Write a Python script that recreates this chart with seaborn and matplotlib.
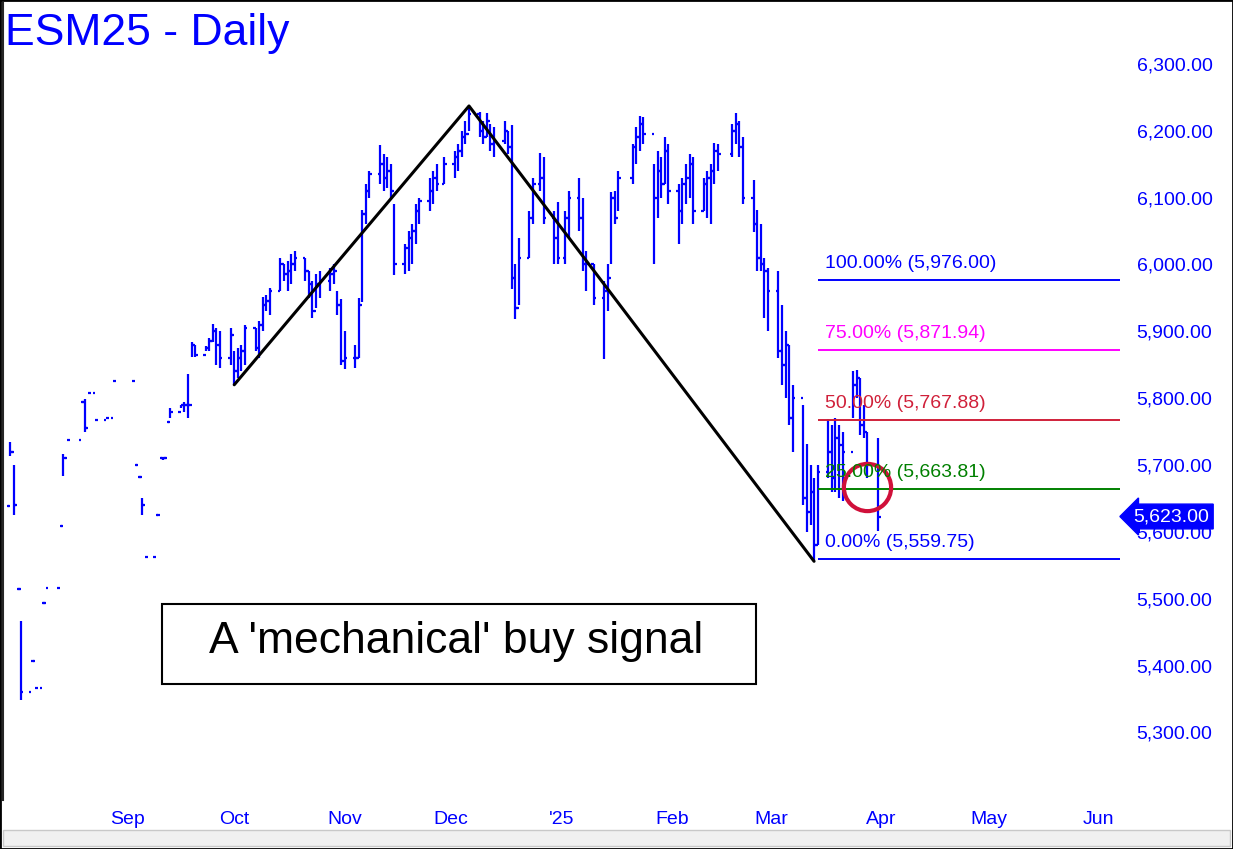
import matplotlib.pyplot as plt
import matplotlib.dates as mdates
import matplotlib.transforms as mtransforms
from matplotlib.patches import Rectangle
import seaborn as sns
import pandas as pd
import numpy as np

nan = np.nan

# daily highs / lows / closes, one row per week (Mon..Fri), from 2024-07-29
highs = [
    5638, 5735, 5700, 5515, 5467,
    5407, 5366, nan, 5494, 5516,
    nan, 5609, 5717, 5738, nan,
    5795, 5798, 5807, nan, 5768,
    5770, nan, 5825, nan, nan,
    nan, 5700, 5682, 5650, 5562,
    5625, 5710, 5712, 5765, 5785,
    5790, 5795, 5836, 5884, 5880,
    5878, 5890, 5911, 5905, 5900,
    5905, 5870, 5875, 5880, 5910,
    5905, 5915, 5951, 5955, 5965,
    6010, 6000, 6005, 6015, 6020,
    6010, 5990, 5975, 5985, 5990,
    5995, 6000, 5960, 5948, 5900,
    5880, 5950, 6082, 6120, 6140,
    6178, 6165, 6160, 6150, 6090,
    6030, 6050, 6060, 6090, 6100,
    6130, 6140, 6150, nan, 6160,
    6170, 6180, 6200, 6215, 6237,
    6228, 6215, 6227, 6210, 6205,
    6215, 6200, 6208, 6000, 6040,
    6080, 6130, nan, 6167, 6160,
    6080, 6093, nan, 6080, 6110,
    6130, 6100, 6020, nan, 6000,
    5975, 6000, 6108, 6110, 6140,
    nan, 6180, 6205, 6222, 6220,
    6150, 6170, 6160, 6190, 6180,
    6120, 6130, 6150, 6165, 6160,
    6130, 6140, 6150, 6182, 6180,
    nan, 6210, 6227, 6215, 6190,
    6127, 6082, 6060, 6010, 5995,
    5990, 5939, 5900, 5880, 5820,
    5790, 5731, 5700, 5680, 5700,
    5769, 5760, 5770, 5760, 5750,
    5840, 5842, 5830, 5790, 5750,
    5740,
]
lows = [
    5638, 5713, 5625, 5515, 5348,
    5407, 5366, nan, 5494, 5516,
    nan, 5609, 5683, 5738, nan,
    5795, 5750, 5807, nan, 5768,
    5770, nan, 5825, nan, nan,
    nan, 5700, 5682, 5625, 5562,
    5625, 5710, 5708, 5765, 5770,
    5785, 5780, 5770, 5862, 5862,
    5870, 5870, 5884, 5850, 5845,
    5850, 5820, 5830, 5840, 5850,
    5870, 5860, 5900, 5930, 5925,
    5960, 5975, 5960, 5970, 5990,
    5975, 5950, 5920, 5935, 5950,
    5960, 5970, 5925, 5850, 5844,
    5845, 5860, 5944, 6060, 6100,
    6120, 6110, 6115, 6100, 5984,
    5985, 5990, 6000, 6030, 6060,
    6080, 6090, 6110, nan, 6120,
    6130, 6140, 6160, 6180, 6200,
    6190, 6180, 6190, 6170, 6160,
    6180, 6165, 5963, 5918, 5940,
    6010, 6060, nan, 6110, 6060,
    6000, 6000, nan, 6000, 6040,
    6050, 5990, 5960, nan, 5939,
    5859, 5930, 6000, 6060, 6080,
    nan, 6120, 6150, 6170, 6180,
    6000, 6070, 6100, 6120, 6090,
    6030, 6060, 6090, 6100, 6060,
    6080, 6070, 6060, 6120, 6140,
    nan, 6160, 6180, 6160, 6090,
    6048, 5990, 5990, 5920, 5900,
    5860, 5820, 5800, 5760, 5720,
    5640, 5600, 5610, 5556, 5580,
    5680, 5660, 5660, 5650, 5646,
    5770, 5800, 5745, 5740, 5680,
    5601,
]
closes = [
    5638, 5720, 5640, 5515, 5360,
    5407, 5366, nan, 5494, 5516,
    nan, 5609, 5710, 5738, nan,
    5795, 5755, 5807, nan, 5768,
    5770, nan, 5825, nan, nan,
    nan, 5700, 5682, 5640, 5562,
    5625, 5710, 5710, 5765, 5780,
    5790, 5790, 5790, 5880, 5865,
    5875, 5885, 5900, 5880, 5860,
    5895, 5840, 5860, 5870, 5905,
    5875, 5910, 5940, 5945, 5960,
    6000, 5985, 5990, 6000, 6010,
    5990, 5970, 5930, 5970, 5975,
    5985, 5990, 5940, 5855, 5860,
    5860, 5940, 6075, 6110, 6135,
    6150, 6130, 6140, 6110, 6000,
    6025, 6040, 6050, 6080, 6095,
    6110, 6130, 6120, nan, 6150,
    6160, 6170, 6190, 6195, 6225,
    6200, 6190, 6215, 6180, 6185,
    6200, 6175, 5980, 5935, 6010,
    6070, 6120, nan, 6130, 6070,
    6040, 6010, nan, 6070, 6100,
    6070, 6000, 6000, nan, 5950,
    5960, 5980, 6100, 6070, 6130,
    nan, 6175, 6190, 6210, 6195,
    6100, 6140, 6120, 6170, 6110,
    6080, 6120, 6130, 6150, 6080,
    6120, 6130, 6140, 6170, 6165,
    nan, 6200, 6210, 6175, 6100,
    6060, 6010, 6000, 5990, 5960,
    5870, 5850, 5880, 5770, 5800,
    5650, 5630, 5660, 5580, 5690,
    5720, 5680, 5740, 5730, 5720,
    5820, 5830, 5760, 5750, 5700,
    5623,
]

swing_dates = ["2024-10-01", "2024-12-06", "2025-03-13"]
swing_prices = [5820, 6237, 5556]

fib_labels = ["100.00% (5,976.00)", "75.00% (5,871.94)", "50.00% (5,767.88)",
              "25.00% (5,663.81)", "0.00% (5,559.75)"]
fib_values = [5976.00, 5871.94, 5767.88, 5663.81, 5559.75]
fib_colors = ["#0000ff", "#ff00ff", "#d0203a", "#008000", "#0000ff"]

last_price = 5623.00

dates = pd.bdate_range("2024-07-29", periods=len(highs))
df = pd.DataFrame({"date": dates, "high": highs, "low": lows, "close": closes})
df["open"] = df["close"].ffill().shift(1)
df = df.dropna(subset=["high"])

sns.set_style("white")
plt.rcParams["font.family"] = ["Liberation Sans", "DejaVu Sans"]
plt.rcParams["text.color"] = "black"

fig = plt.figure(figsize=(12.33, 8.49), dpi=100)
ax = fig.add_axes([3 / 1233, 1 - 800 / 849, 1117 / 1233, 797 / 849])

blue = "#0000ff"
x = mdates.date2num(df["date"])
ax.vlines(x, df["low"], df["high"], color=blue, lw=1.6)
ax.hlines(df["open"], x - 0.7, x, color=blue, lw=1.6)
ax.hlines(df["close"], x, x + 0.7, color=blue, lw=1.6)

sw = pd.DataFrame({"date": pd.to_datetime(swing_dates), "price": swing_prices})
sns.lineplot(data=sw, x="date", y="price", color="black", lw=2.2, ax=ax)

fib_start = mdates.date2num(pd.Timestamp("2025-03-14"))
fib_end = mdates.date2num(pd.Timestamp("2025-06-07"))
for lab, val, col in zip(fib_labels, fib_values, fib_colors):
    ax.hlines(val, fib_start, fib_end, color=col, lw=1.4)
    ax.text(fib_start + 2, val + 12, lab, color=col, fontsize=14, va="bottom")

ax.plot(mdates.date2num(pd.Timestamp("2025-03-28")), 5667, "o", ms=34,
        mfc="none", mec="#d0103a", mew=3)

ax.set_xlim(mdates.date2num(pd.Timestamp("2024-07-28")), fib_end)
ax.set_ylim(5199, 6391)

months = pd.date_range("2024-09-01", "2025-06-01", freq="MS")
ax.set_xticks(mdates.date2num(months))
ax.set_xticklabels(["'25" if m.month == 1 else m.strftime("%b") for m in months])
yt = np.arange(5300, 6301, 100)
ax.set_yticks(yt)
ax.set_yticklabels([f"{v:,.2f}" for v in yt])
ax.yaxis.tick_right()
ax.tick_params(axis="both", colors=blue, labelsize=14, length=0, pad=8)
ax.tick_params(axis="y", pad=12)
ax.set_xlabel("")
ax.set_ylabel("")
for s in ["top", "right", "bottom"]:
    ax.spines[s].set_visible(False)
ax.spines["left"].set_linewidth(1.5)

trans = mtransforms.blended_transform_factory(ax.transAxes, ax.transData)
ax.annotate(f"{last_price:,.2f}", xy=(1.0, last_price), xycoords=trans,
            xytext=(1.012, last_price), textcoords=trans, color="white",
            fontsize=14, va="center", ha="left",
            bbox=dict(boxstyle="larrow,pad=0.2", fc=blue, ec=blue))

fig.text(5 / 1233, 1 - 33 / 849, "ESM25 - Daily", color=blue, fontsize=32, va="center")

fig.text(456 / 1233, 1 - 642 / 849, "A 'mechanical' buy signal", fontsize=32,
         ha="center", va="center", color="black")
fig.add_artist(Rectangle((162 / 1233, 1 - 684 / 849), 594 / 1233, 80 / 849,
                         transform=fig.transFigure, fill=False, ec="black", lw=1.5))

# scrollbar and outer border
fig.add_artist(Rectangle((3 / 1233, 1 - 846 / 849), 1227 / 1233, 16 / 849,
                         transform=fig.transFigure, fc="#f0f0f0", ec="#c8c8c8", lw=1))
fig.add_artist(Rectangle((0, 0), 1, 1, transform=fig.transFigure, fill=False,
                         ec="black", lw=2))

fig.savefig("out.png", dpi=100)
